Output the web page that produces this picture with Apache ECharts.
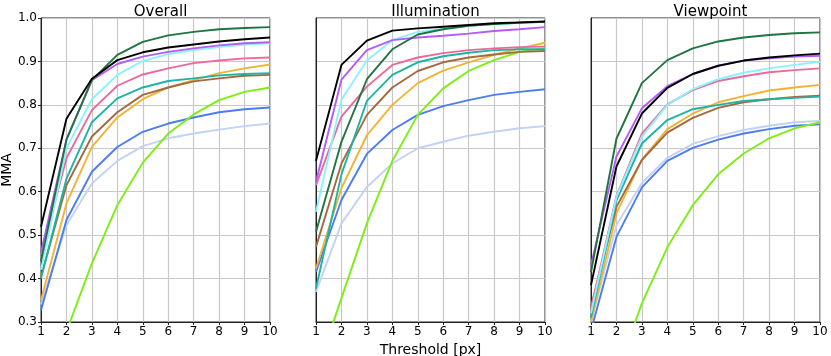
<!DOCTYPE html>
<html><head><meta charset="utf-8">
<script src="https://cdn.jsdelivr.net/npm/echarts@6/dist/echarts.min.js"></script>
<style>html,body{margin:0;padding:0;background:#fff}#c{width:831px;height:356px}</style>
</head><body><div id="c"></div>
<script>
const thresholds = [1,2,3,4,5,6,7,8,9,10];
const panelTitles = ['Overall','Illumination','Viewpoint'];
const yTicks = [0.3,0.4,0.5,0.6,0.7,0.8,0.9,1.0];
const methodNames = ['paleBlue','blue','lime','orange','brown','teal','pink','cyan','purple','darkGreen','black'];

// Overall
const overallPaleBlue = [0.34,0.523,0.619,0.671,0.705,0.723,0.734,0.743,0.751,0.757];
const overallBlue     = [0.327,0.535,0.646,0.703,0.738,0.757,0.771,0.783,0.790,0.794];
const overallLime     = [0.12,0.278,0.435,0.569,0.667,0.734,0.778,0.811,0.830,0.840];
const overallOrange   = [0.35,0.573,0.703,0.771,0.813,0.840,0.857,0.873,0.884,0.893];
const overallBrown    = [0.404,0.615,0.727,0.783,0.823,0.840,0.854,0.861,0.867,0.869];
const overallTeal     = [0.40,0.63,0.760,0.815,0.840,0.855,0.861,0.868,0.871,0.873];
const overallPink     = [0.454,0.677,0.788,0.844,0.870,0.884,0.896,0.902,0.907,0.909];
const overallCyan     = [0.42,0.70,0.813,0.869,0.901,0.917,0.926,0.933,0.939,0.942];
const overallPurple   = [0.46,0.72,0.857,0.894,0.911,0.922,0.930,0.937,0.942,0.944];
const overallDarkGreen= [0.44,0.72,0.857,0.915,0.945,0.960,0.968,0.974,0.977,0.979];
const overallBlack    = [0.519,0.768,0.860,0.903,0.921,0.932,0.939,0.946,0.951,0.955];

// Illumination
const illumPaleBlue = [0.369,0.527,0.611,0.665,0.700,0.715,0.729,0.738,0.746,0.751];
const illumBlue     = [0.415,0.581,0.687,0.742,0.777,0.797,0.811,0.823,0.830,0.836];
const illumLime     = [0.18,0.355,0.527,0.671,0.777,0.838,0.878,0.903,0.922,0.930];
const illumOrange   = [0.423,0.608,0.730,0.800,0.850,0.879,0.898,0.915,0.930,0.943];
const illumBrown    = [0.473,0.665,0.777,0.840,0.878,0.898,0.909,0.916,0.922,0.924];
const illumTeal     = [0.377,0.64,0.809,0.869,0.898,0.912,0.920,0.926,0.928,0.928];
const illumPink     = [0.615,0.773,0.842,0.892,0.909,0.919,0.926,0.930,0.933,0.934];
const illumCyan     = [0.554,0.812,0.902,0.949,0.968,0.975,0.982,0.986,0.989,0.991];
const illumPurple   = [0.623,0.858,0.926,0.949,0.955,0.959,0.964,0.970,0.974,0.979];
const illumDarkGreen= [0.508,0.715,0.859,0.928,0.962,0.974,0.982,0.986,0.989,0.991];
const illumBlack    = [0.671,0.892,0.948,0.971,0.976,0.980,0.984,0.988,0.990,0.992];

// Viewpoint
const viewPaleBlue = [0.30,0.523,0.620,0.678,0.710,0.728,0.742,0.752,0.760,0.763];
const viewBlue     = [0.28,0.496,0.610,0.671,0.701,0.720,0.734,0.744,0.752,0.755];
const viewLime     = [0.05,0.18,0.343,0.472,0.569,0.640,0.688,0.723,0.746,0.760];
const viewOrange   = [0.30,0.55,0.674,0.744,0.780,0.806,0.820,0.833,0.840,0.846];
const viewBrown    = [0.335,0.565,0.673,0.736,0.770,0.793,0.806,0.813,0.818,0.821];
const viewTeal     = [0.31,0.58,0.711,0.765,0.790,0.800,0.809,0.813,0.816,0.819];
const viewPink     = [0.33,0.59,0.734,0.801,0.834,0.855,0.866,0.875,0.880,0.884];
const viewCyan     = [0.32,0.588,0.727,0.800,0.836,0.859,0.874,0.884,0.892,0.899];
const viewPurple   = [0.431,0.681,0.792,0.843,0.871,0.890,0.902,0.907,0.911,0.913];
const viewDarkGreen= [0.415,0.722,0.850,0.903,0.930,0.946,0.955,0.961,0.965,0.967];
const viewBlack    = [0.385,0.658,0.780,0.839,0.871,0.890,0.902,0.909,0.914,0.918];

const colors = {
  paleBlue:'#c2d2f4', blue:'#4b7bf5', lime:'#7cee12', orange:'#f2b233', brown:'#a5693f',
  teal:'#1fb3a3', pink:'#ea6a9d', cyan:'#8af2ff', purple:'#b45cf7', darkGreen:'#207440', black:'#000000'
};

const panels = [
  {paleBlue:overallPaleBlue, blue:overallBlue, lime:overallLime, orange:overallOrange, brown:overallBrown, teal:overallTeal, pink:overallPink, cyan:overallCyan, purple:overallPurple, darkGreen:overallDarkGreen, black:overallBlack},
  {paleBlue:illumPaleBlue, blue:illumBlue, lime:illumLime, orange:illumOrange, brown:illumBrown, teal:illumTeal, pink:illumPink, cyan:illumCyan, purple:illumPurple, darkGreen:illumDarkGreen, black:illumBlack},
  {paleBlue:viewPaleBlue, blue:viewBlue, lime:viewLime, orange:viewOrange, brown:viewBrown, teal:viewTeal, pink:viewPink, cyan:viewCyan, purple:viewPurple, darkGreen:viewDarkGreen, black:viewBlack}
];

const FONT = 'DejaVu Sans';
const lefts = [41, 316, 591];
const W = 229;
const grids = lefts.map(l => ({left:l, top:18, width:W, height:304, show:true, borderColor:'#222', borderWidth:1, backgroundColor:'transparent', containLabel:false, outerBoundsMode:'none'}));

const xAxes = lefts.map((l,i) => ({
  type:'value', gridIndex:i, min:1, max:10, interval:1,
  name: i===1 ? 'Threshold [px]' : '', nameLocation:'middle', nameGap:16,
  nameTextStyle:{fontFamily:FONT, fontSize:14, color:'#000'},
  axisLine:{show:true, lineStyle:{color:'#222', width:1}},
  axisTick:{show:true, length:3, lineStyle:{color:'#222'}},
  axisLabel:{fontFamily:FONT, fontSize:12, color:'#000', margin:4},
  splitLine:{show:true, lineStyle:{color:'#c8c8c8', width:1.2}}
}));
const yAxes = lefts.map((l,i) => ({
  type:'value', gridIndex:i, min:0.3, max:1.0, interval:0.1,
  name: i===0 ? 'MMA' : '', nameLocation:'middle', nameGap:24, nameRotate:90,
  nameTextStyle:{fontFamily:FONT, fontSize:14, color:'#000'},
  axisLine:{show:true, lineStyle:{color:'#222', width:1}},
  axisTick:{show:i===0, length:3, lineStyle:{color:'#222'}},
  axisLabel:{show:i===0, fontFamily:FONT, fontSize:12, color:'#000', margin:4,
    formatter: v => v.toFixed(1)},
  splitLine:{show:true, lineStyle:{color:'#c8c8c8', width:1.2}}
}));

const series = [];
panels.forEach((p,i) => {
  methodNames.forEach(m => {
    series.push({
      type:'line', xAxisIndex:i, yAxisIndex:i, name:m, clip:true,
      data: thresholds.map((t,k) => [t, p[m][k]]),
      showSymbol:false, symbol:'none', silent:true,
      lineStyle:{color:colors[m], width:1.9},
      itemStyle:{color:colors[m]}, animation:false
    });
  });
});

const titles = panelTitles.map((t,i) => ({
  text:t, left: lefts[i] + W/2, top:0, textAlign:'center',
  textStyle:{fontFamily:FONT, fontSize:15, fontWeight:'normal', color:'#000'}
}));

const chart = echarts.init(document.getElementById('c'), null, {renderer:'canvas'});
chart.setOption({animation:false, title:titles, grid:grids, xAxis:xAxes, yAxis:yAxes, series:series});
</script></body></html>
